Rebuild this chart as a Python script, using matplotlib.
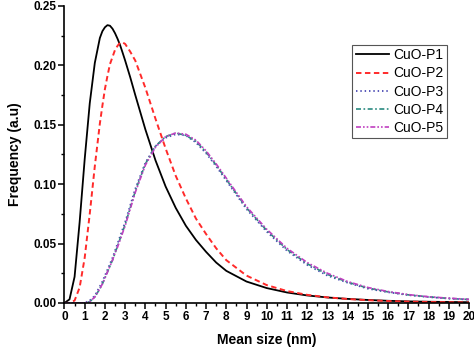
import numpy as np
import matplotlib
matplotlib.use("Agg")
import matplotlib.pyplot as plt
from matplotlib.ticker import MultipleLocator

plt.rcParams['font.family'] = ['Liberation Sans', 'DejaVu Sans']

# ── Data ──
size_nm = [0, 0.25, 0.5, 0.75, 1, 1.25, 1.5, 1.75, 1.875, 2, 2.125, 2.25, 2.375, 2.5,
           2.625, 2.75, 2.875, 3, 3.25, 3.5, 4, 4.5, 5, 5.5, 6, 6.5, 7, 7.5, 8, 9, 10,
           11, 12, 13, 14, 15, 16, 17, 18, 19, 20]

p1 = [0, 0.003, 0.022, 0.068, 0.121, 0.168, 0.202, 0.223, 0.2287, 0.232, 0.2338, 0.2333,
      0.2308, 0.227, 0.2223, 0.217, 0.2106, 0.204, 0.190, 0.175, 0.146, 0.120, 0.098,
      0.080, 0.065, 0.053, 0.043, 0.034, 0.027, 0.018, 0.0125, 0.0088, 0.0063, 0.0046,
      0.0034, 0.0025, 0.0018, 0.0013, 0.0010, 0.0008, 0.0006]
p2 = [0, 0, 0.002, 0.013, 0.038, 0.075, 0.115, 0.151, 0.166, 0.180, 0.191, 0.201, 0.207,
      0.213, 0.2164, 0.219, 0.2192, 0.218, 0.2115, 0.204, 0.181, 0.155, 0.130, 0.107,
      0.088, 0.071, 0.058, 0.046, 0.036, 0.023, 0.015, 0.0100, 0.0068, 0.0047, 0.0033,
      0.0023, 0.0016, 0.0011, 0.0008, 0.0006, 0.0004]
p3 = [0, 0, 0, 0, 0, 0.002, 0.006, 0.014, 0.018, 0.023, 0.028, 0.033, 0.038, 0.044,
      0.050, 0.056, 0.062, 0.068, 0.082, 0.096, 0.118, 0.132, 0.139, 0.142, 0.141,
      0.135, 0.126, 0.115, 0.103, 0.079, 0.060, 0.044, 0.032, 0.023, 0.017, 0.012,
      0.009, 0.0066, 0.0049, 0.0037, 0.0028]
p4 = [0, 0, 0, 0, 0, 0.001, 0.005, 0.012, 0.016, 0.021, 0.026, 0.031, 0.036, 0.042,
      0.048, 0.054, 0.060, 0.066, 0.080, 0.094, 0.117, 0.132, 0.140, 0.143, 0.141,
      0.136, 0.127, 0.116, 0.104, 0.080, 0.061, 0.045, 0.033, 0.024, 0.0175, 0.0125,
      0.0093, 0.0068, 0.0051, 0.0038, 0.0029]
p5 = [0, 0, 0, 0, 0, 0.001, 0.005, 0.012, 0.016, 0.021, 0.026, 0.031, 0.036, 0.042,
      0.047, 0.053, 0.059, 0.065, 0.079, 0.093, 0.116, 0.131, 0.140, 0.143, 0.142,
      0.137, 0.128, 0.117, 0.105, 0.081, 0.062, 0.046, 0.034, 0.025, 0.018, 0.013,
      0.0096, 0.0070, 0.0052, 0.0040, 0.0030]

labels = ["CuO-P1", "CuO-P2", "CuO-P3", "CuO-P4", "CuO-P5"]

fig = plt.figure(figsize=(4.74, 3.47), dpi=100)
ax = fig.add_axes([0.136, 0.127, 0.8535, 0.856])

ax.plot(size_nm, p1, color='black', lw=1.3, label=labels[0])
ax.plot(size_nm, p2, color='#ff2a2a', lw=1.4, ls=(0, (2.8, 1.8)), label=labels[1])
ax.plot(size_nm, p3, color='#4b4bb4', lw=1.3, ls=(0, (0.8, 1.6)), label=labels[2])
ax.plot(size_nm, p4, color='#2a8a80', lw=1.2, ls=(0, (3, 1.5, 1, 1.5)), label=labels[3])
ax.plot(size_nm, p5, color='#c040c0', lw=1.2, ls=(0, (3, 1.2, 1, 1.2, 1, 1.2)), label=labels[4])

ax.set_xlim(0, 20)
ax.set_ylim(0, 0.25)
ax.xaxis.set_major_locator(MultipleLocator(1))
ax.xaxis.set_minor_locator(MultipleLocator(0.5))
ax.yaxis.set_major_locator(MultipleLocator(0.05))
ax.yaxis.set_minor_locator(MultipleLocator(0.025))
ax.yaxis.set_major_formatter(matplotlib.ticker.FormatStrFormatter('%.2f'))

for side in ['top', 'right']:
    ax.spines[side].set_visible(False)
for side in ['left', 'bottom']:
    ax.spines[side].set_linewidth(1.2)

ax.tick_params(which='major', direction='out', length=4, width=1.1, labelsize=8.5, pad=2)
ax.tick_params(which='minor', direction='out', length=2.2, width=1.0)
for lbl in ax.get_xticklabels() + ax.get_yticklabels():
    lbl.set_fontweight('bold')

ax.set_xlabel("Mean size (nm)", fontsize=10, fontweight='bold', labelpad=7)
ax.set_ylabel("Frequency (a.u)", fontsize=10, fontweight='bold', labelpad=8)

leg = ax.legend(loc='upper right', bbox_to_anchor=(0.946, 0.869), borderaxespad=0,
                fontsize=10, handlelength=2.4, handletextpad=0.3, labelspacing=0.3,
                borderpad=0.25, fancybox=False, framealpha=1)
leg.get_frame().set_edgecolor('#555555')
leg.get_frame().set_linewidth(0.8)

fig.savefig("out.png", dpi=100)
